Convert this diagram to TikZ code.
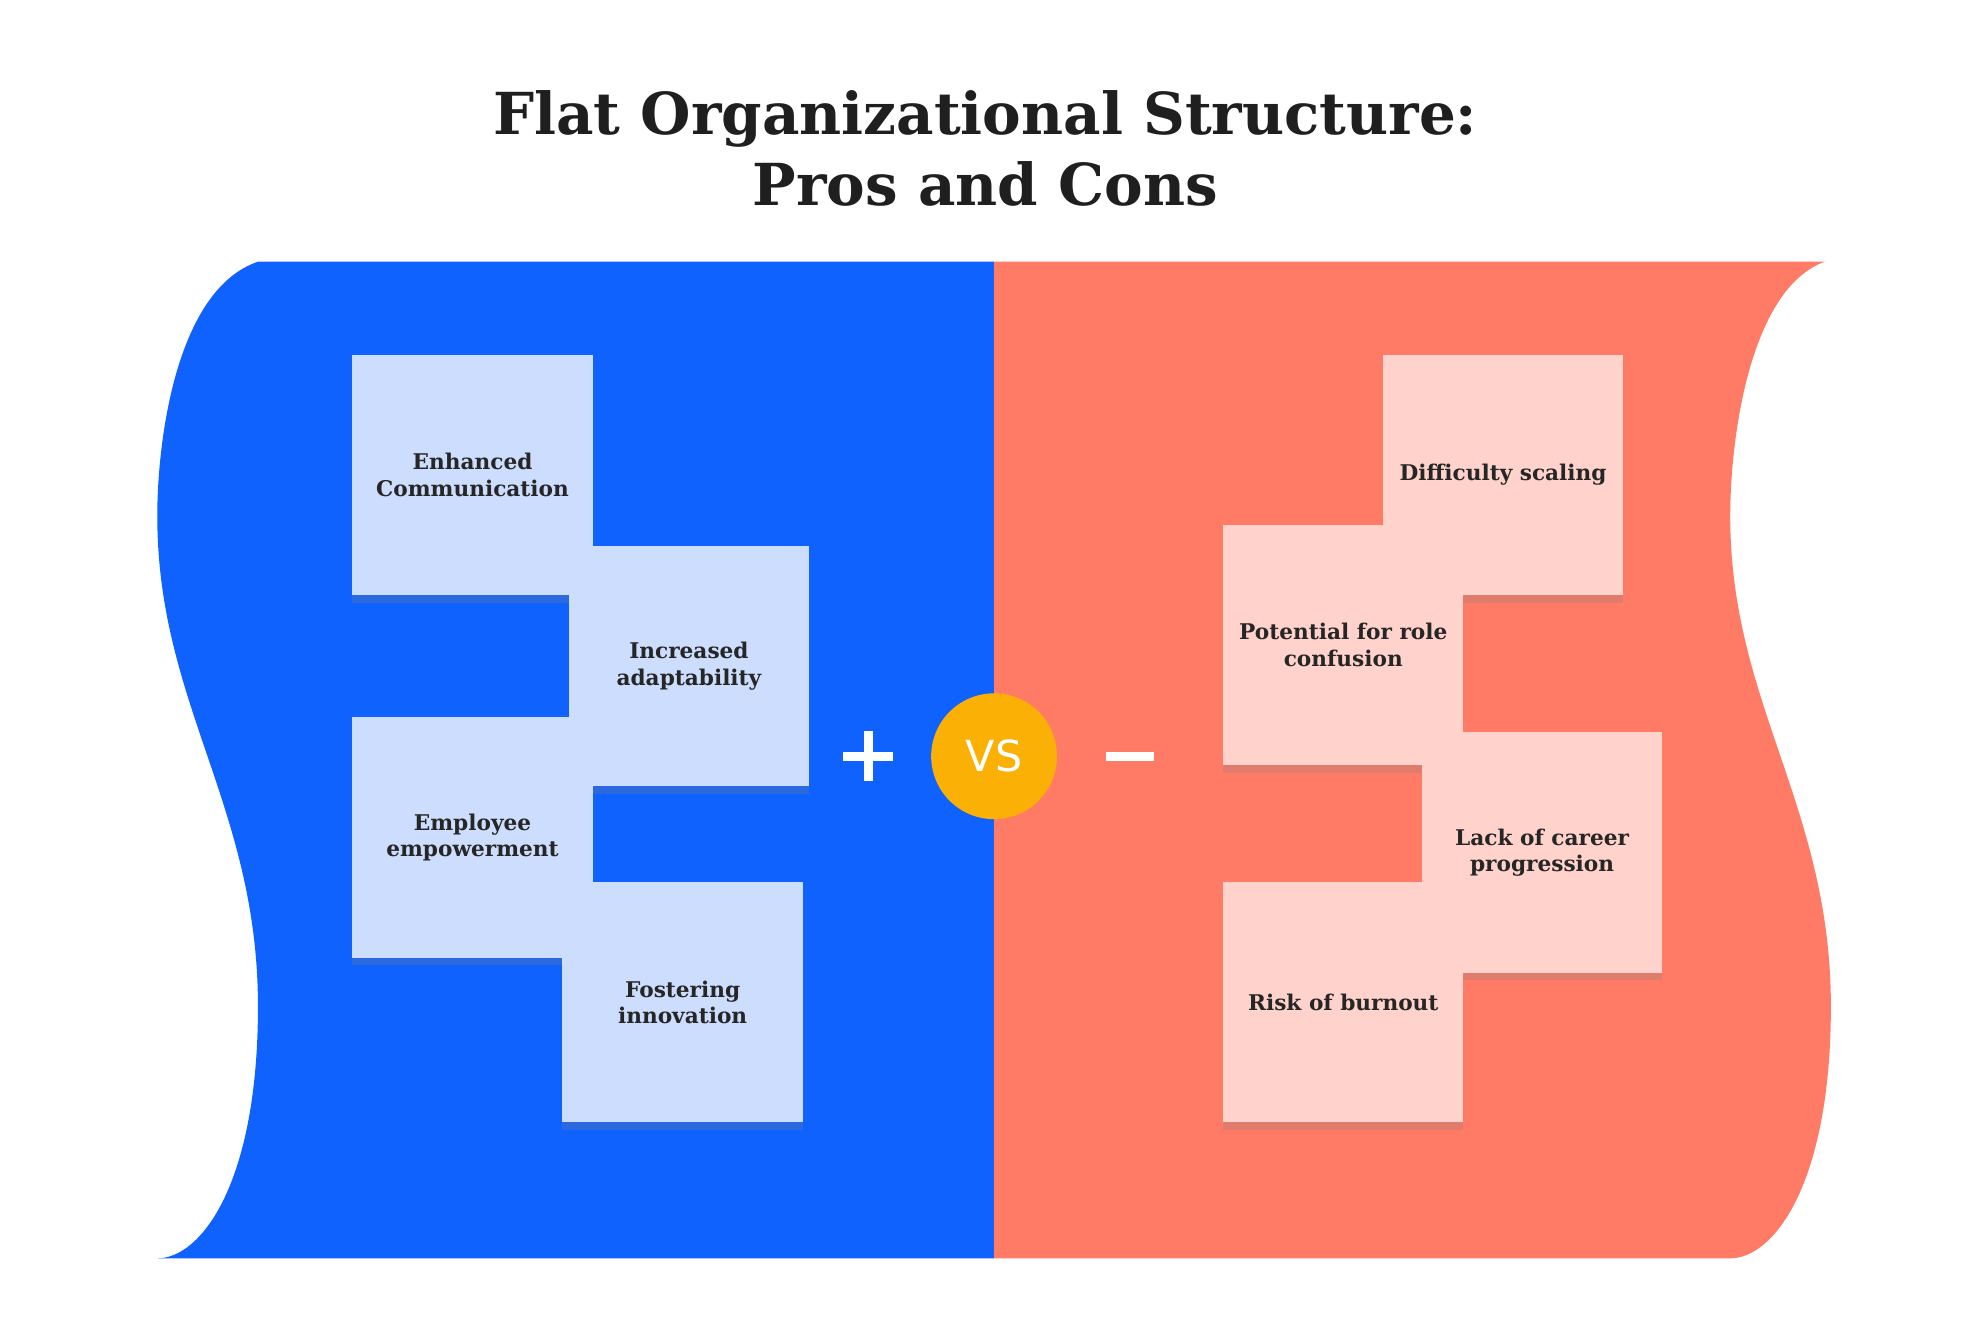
\documentclass[tikz,border=0pt]{standalone}
\usepackage{fontspec}
\setmainfont{DejaVu Serif}
\newfontfamily\vsfont{DejaVu Sans}
\usetikzlibrary{shadows}
\definecolor{problue}{HTML}{1062FE}
\definecolor{conred}{HTML}{FF7B65}
\definecolor{boxblue}{HTML}{CCDDFD}
\definecolor{boxred}{HTML}{FFD3CB}
\definecolor{vsyel}{HTML}{FAB005}
\begin{document}
\begin{tikzpicture}[x=0.5pt,y=-0.5pt,
 card/.style={minimum width=95.5pt,minimum height=95.5pt,inner sep=0pt,align=center,
   font=\bfseries\fontsize{8.6}{10.5}\selectfont,text=black!85,
   drop shadow={shadow xshift=0pt,shadow yshift=-3pt,opacity=0.25}},
 pro/.style={card,fill=boxblue},
 con/.style={card,fill=boxred}]
\useasboundingbox (0,0) rectangle (1560,1053);
\fill[white] (0,0) rectangle (1560,1053);
\node[font=\bfseries\fontsize{23}{28.5}\selectfont,align=center,text=black!88] (title) at (783,118) {Flat Organizational Structure:\\Pros and Cons};
\fill[problue] (205,208) .. controls (140,230) and (125,350) .. (125,410) .. controls (125,560) and (205,640) .. (205,800) .. controls (205,940) and (160,1000) .. (125,1000) -- (790,1000) -- (790,208) -- cycle;
\fill[conred] (790,208) -- (1450,208) .. controls (1390,230) and (1375,350) .. (1375,410) .. controls (1375,560) and (1455,640) .. (1455,800) .. controls (1455,940) and (1410,1000) .. (1375,1000) -- (790,1000) -- cycle;
\node[pro] (p1) at (375.5,377.5) {Enhanced\\Communication};
\node[pro] (p2) at (547.5,529.5) {Increased\\adaptability};
\node[pro] (p3) at (375.5,665.5) {Employee\\empowerment};
\node[pro] (p4) at (542.5,796.5) {Fostering\\innovation};
\node[con] (c1) at (1194.5,377.5) {Difficulty scaling};
\node[con] (c2) at (1067.5,512.5) {Potential for role\\confusion};
\node[con] (c3) at (1225.5,677.5) {Lack of career\\progression};
\node[con] (c4) at (1067.5,796.5) {Risk of burnout};
\draw[white,line width=3.5pt] (670,601) -- (710,601) (690,581) -- (690,621);
\draw[white,line width=3.5pt] (879,601) -- (917,601);
\node[circle,fill=vsyel,minimum size=50pt,inner sep=0pt,text=white,font=\vsfont\fontsize{17}{20}\selectfont] (vs) at (790,601) {VS};
\end{tikzpicture}
\end{document}
